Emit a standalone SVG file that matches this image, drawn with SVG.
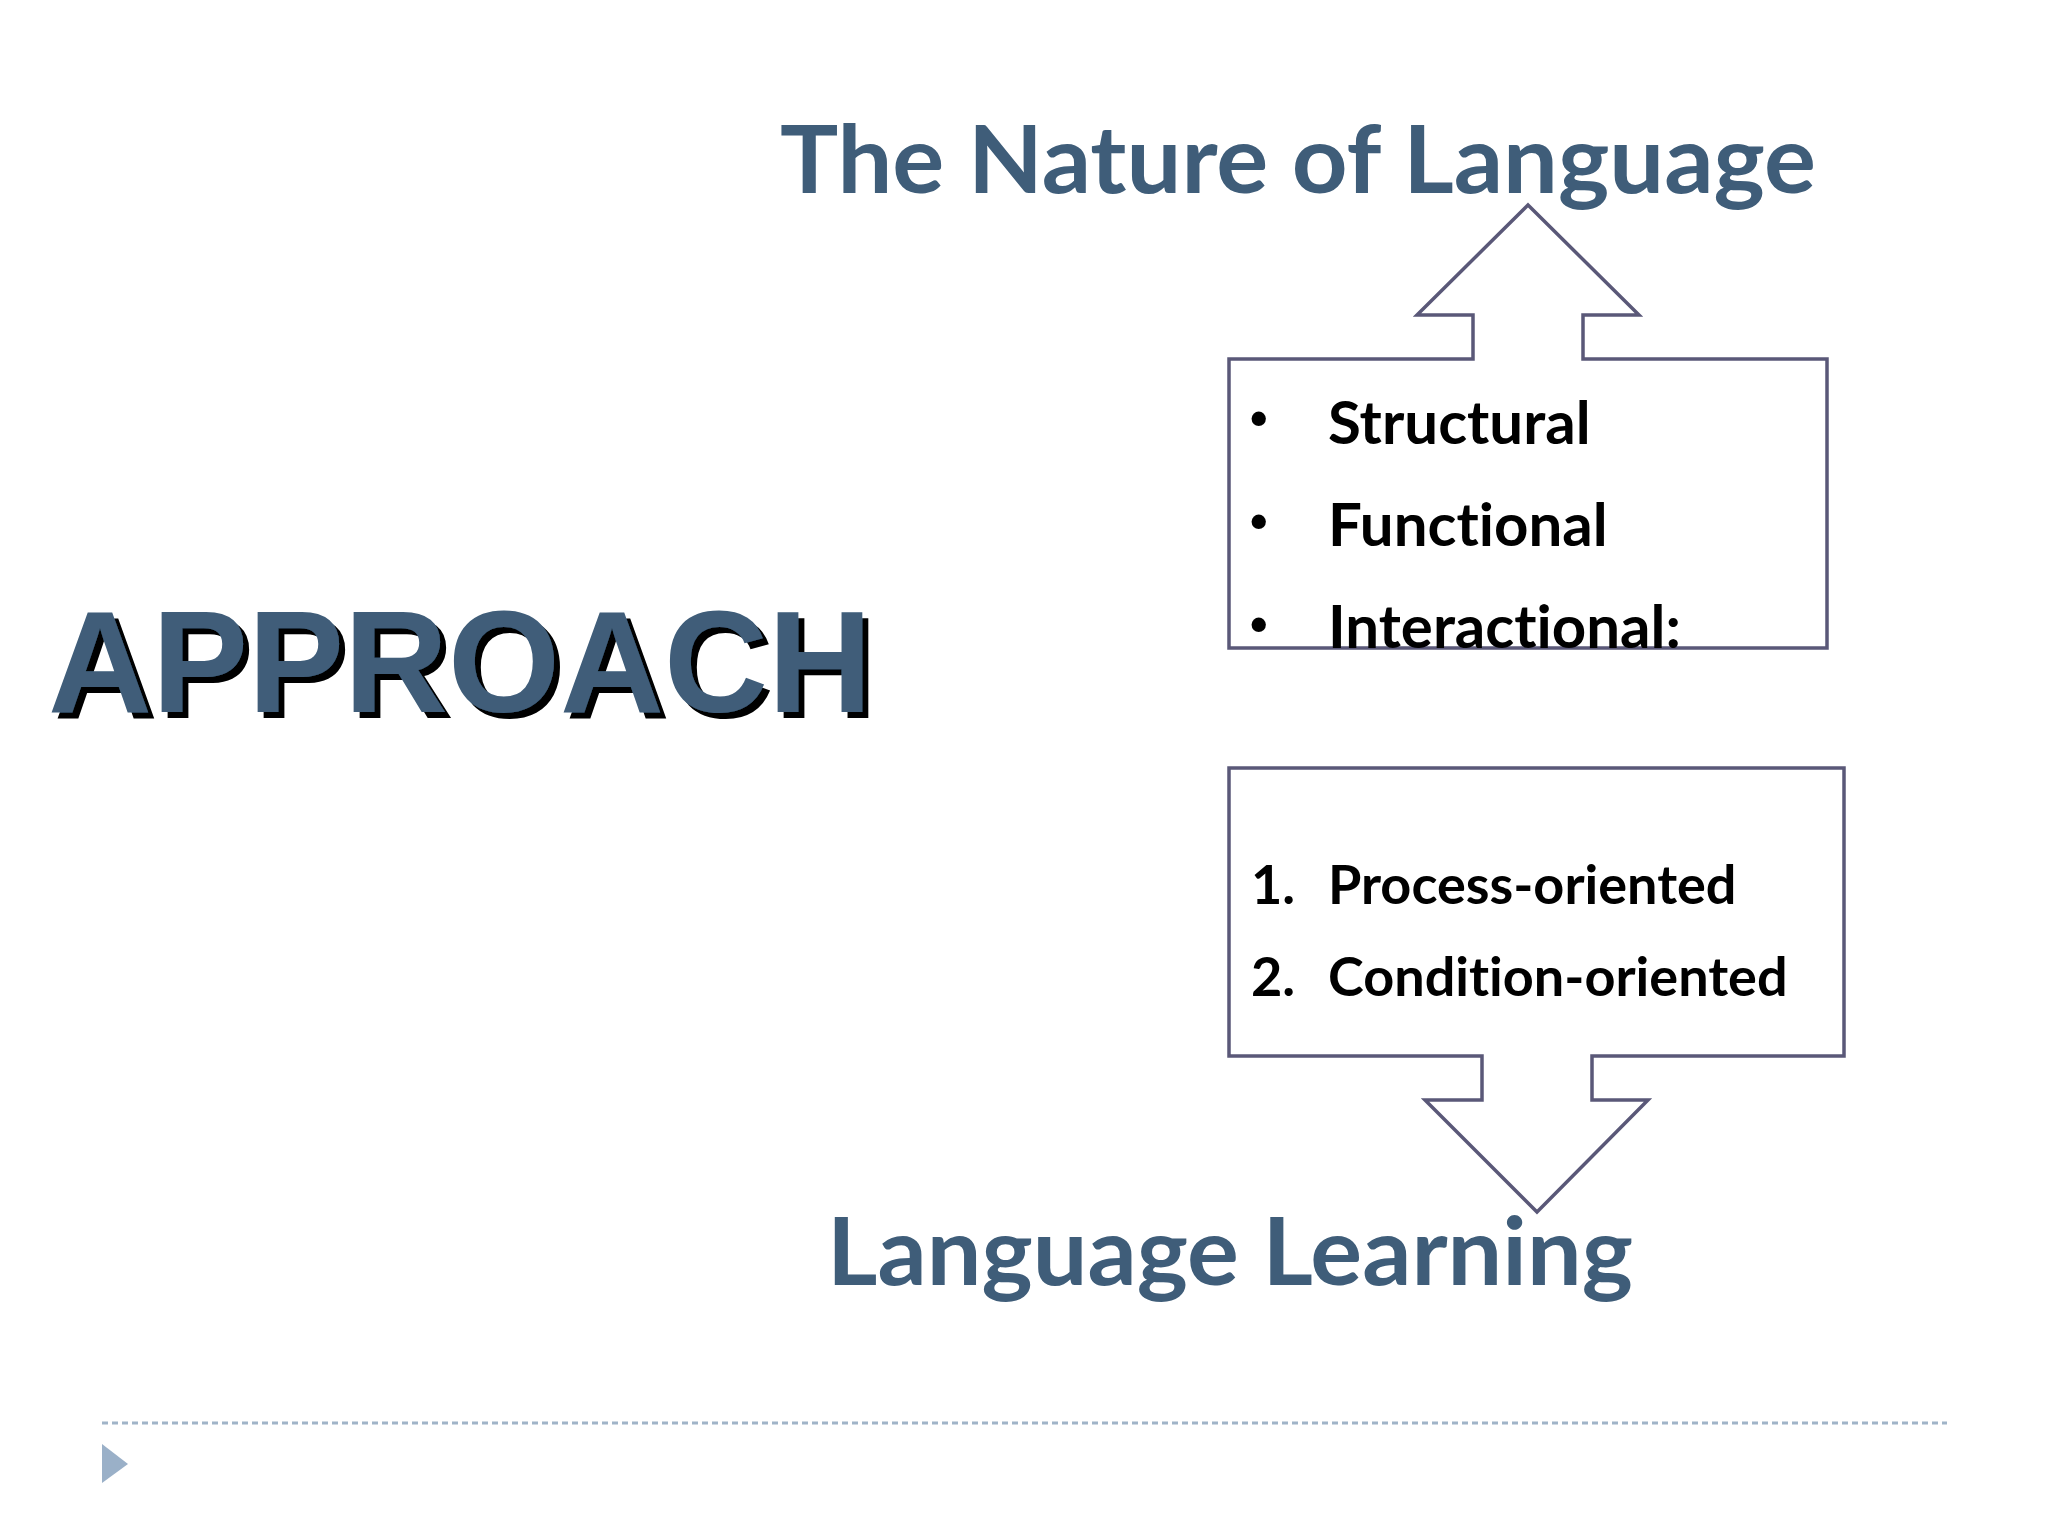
<svg xmlns="http://www.w3.org/2000/svg" width="2048" height="1536" viewBox="0 0 2048 1536">
<defs>
<filter id="shadow" x="-5%" y="-20%" width="115%" height="150%">
<feOffset in="SourceAlpha" dx="6" dy="6" result="off"/>
<feMerge><feMergeNode in="off"/><feMergeNode in="SourceGraphic"/></feMerge>
</filter>
</defs>
<style>
text{font-variant-ligatures:none}
.title{font-family:Lato,"Liberation Sans",sans-serif;font-weight:bold;fill:#3F5D79;font-size:94px}
.item{font-family:Lato,"Liberation Sans",sans-serif;font-weight:bold;fill:#000;font-size:60px}
.item2{font-family:Lato,"Liberation Sans",sans-serif;font-weight:bold;fill:#000;font-size:54px}
.bullet{font-family:"Liberation Sans",sans-serif;font-weight:bold;fill:#000;font-size:50px}
.big{font-family:"Liberation Sans",Arial,sans-serif;font-weight:bold;font-size:144px;fill:#3F5D79}
.shape{fill:none;stroke:#5A5878;stroke-width:3.5}
</style>
<rect width="2048" height="1536" fill="#FFFFFF"/>
<g id="approach">
<text class="big" x="48" y="712" filter="url(#shadow)">APPROACH</text>
</g>
<g id="nature-title">
<text class="title" x="780" y="193" textLength="1036" lengthAdjust="spacingAndGlyphs">The Nature of Language</text>
</g>
<g id="learning-title">
<text class="title" x="827" y="1285" textLength="806" lengthAdjust="spacingAndGlyphs">Language Learning</text>
</g>
<g id="connectors">
<polygon class="shape" points="1528,205 1639,315 1583,315 1583,359 1827,359 1827,648 1229,648 1229,359 1473,359 1473,315 1417,315"/>
<polygon class="shape" points="1229,768 1844,768 1844,1056 1592,1056 1592,1100 1648,1100 1537,1212 1425,1100 1482,1100 1482,1056 1229,1056"/>
</g>
<g id="nature-box">
<text class="bullet" x="1250" y="435">•</text>
<text class="item" x="1328" y="444">Structural</text>
<text class="bullet" x="1250" y="538">•</text>
<text class="item" x="1328" y="546">Functional</text>
<text class="bullet" x="1250" y="641">•</text>
<text class="item" x="1328" y="648">Interactional:</text>
</g>
<g id="learning-box">
<text class="item2" x="1251" y="904">1.</text>
<text class="item2" x="1328" y="904">Process-oriented</text>
<text class="item2" x="1251" y="996">2.</text>
<text class="item2" x="1328" y="996">Condition-oriented</text>
</g>
<g id="footer">
<line x1="102" y1="1423" x2="1947" y2="1423" stroke="#A0B4C8" stroke-width="3" stroke-dasharray="6,4"/>
<polygon points="102,1444 128,1464 102,1483" fill="#9AB0C8"/>
</g>
</svg>
